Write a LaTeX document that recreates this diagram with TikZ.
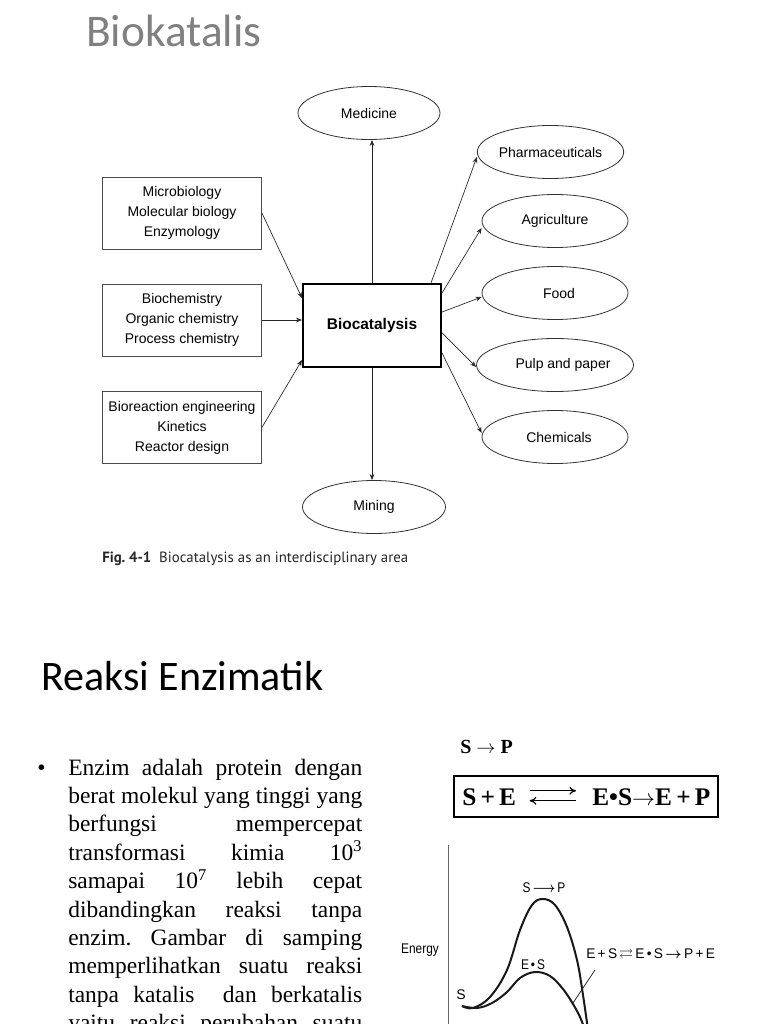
\documentclass[tikz,border=0pt]{standalone}
\usepackage{amssymb}
\usepackage{fontspec}
\setmainfont{Liberation Serif}
\newfontfamily\calfont{Carlito}
\newfontfamily\arfont{Liberation Sans}
\newfontfamily\ptfont{PT Sans}
\usetikzlibrary{shapes.geometric,arrows.meta}
\definecolor{titlegray}{RGB}{128,128,128}
\newcommand{\jline}[1]{\makebox[220.5pt][s]{#1}}
\frenchspacing
\begin{document}
\begin{tikzpicture}[x=0.75pt,y=-0.75pt,
  ell/.style={ellipse,draw=black!80,line width=0.6pt,minimum width=109.5pt,minimum height=39.75pt,inner sep=0pt,font=\arfont\fontsize{10.5}{12}\selectfont},
  srcbox/.style={rectangle,draw=black!70,line width=0.6pt,minimum width=119.25pt,minimum height=54pt,inner sep=0pt,align=center,font=\arfont\fontsize{10.5}{15}\selectfont},
  conn/.style={draw=black!85,line width=0.5pt,-{Stealth[length=4.5pt,width=3.5pt]}},
  body/.style={anchor=base west,inner sep=0pt,font=\fontsize{17.6}{21}\selectfont},
  title/.style={anchor=base west,inner sep=0pt,font=\calfont\fontsize{32}{38}\selectfont},
  eqt/.style={anchor=base west,inner sep=0pt,font=\bfseries\fontsize{19}{23}\selectfont},
  eqarr/.style={line width=0.9pt,-{Computer Modern Rightarrow[length=5pt,width=6pt]}},
  elab/.style={inner sep=0pt,font=\arfont\fontsize{10.5}{12}\selectfont},
  curve/.style={line width=1.5pt,black!90}
]
\useasboundingbox (0,0) rectangle (768,1024);
\clip (0,0) rectangle (768,1024);
\fill[white] (0,0) rectangle (768,1024);

% ---------- Slide 1 ----------
\node[title,text=titlegray,font=\calfont\fontsize{34}{40}\selectfont] (t1) at (86,47) {Biokatalis};

\node[draw=black,line width=1.5pt,minimum width=103.5pt,minimum height=62.25pt,inner sep=0pt,font=\arfont\bfseries\fontsize{11.6}{14}\selectfont] (bio) at (372,325.5) {Biocatalysis};

\node[ell,minimum width=106.5pt] (med) at (369,113) {Medicine};
\node[ell,minimum width=107.25pt] (min) at (374,507) {Mining};
\node[ell] (pha) at (550.5,152) {Pharmaceuticals};
\node[ell] (agr) at (555,221) {Agriculture};
\node[ell] (food) at (555,293) {\hspace*{6pt}Food};
\node[ell] (pulp) at (555,365) {\hspace*{12pt}Pulp and paper};
\node[ell] (chem) at (555,437) {\hspace*{6pt}Chemicals};

\node[srcbox] (b1) at (182,213) {Microbiology\\Molecular biology\\Enzymology};
\node[srcbox] (b2) at (182,320) {Biochemistry\\Organic chemistry\\Process chemistry};
\node[srcbox] (b3) at (182,427.5) {Bioreaction engineering\\Kinetics\\Reactor design};

\draw[conn] (bio.north) -- (bio.north |- med.south);
\draw[conn] (bio.south) -- (bio.south |- min.north);
\draw[conn] (b1.east) -- ([yshift=20.6pt]bio.west);
\draw[conn] (b2.east) -- (b2.east -| bio.west);
\draw[conn] (b3.east) -- ([yshift=-25.9pt]bio.west);
\draw[conn] ([xshift=-8.25pt]bio.north east) -- ([yshift=-3.75pt]pha.west);
\draw[conn] ([yshift=24.4pt]bio.east) -- ([yshift=-5.25pt]agr.west);
\draw[conn] ([yshift=10.1pt]bio.east) -- ([yshift=-3pt]food.west);
\draw[conn] ([yshift=-5.6pt]bio.east) -- ([yshift=-1.5pt]pulp.west);
\draw[conn] ([yshift=-20.6pt]bio.east) -- ([yshift=3pt]chem.west);

\node[anchor=base west,inner sep=0pt,text=black!85,font=\ptfont\fontsize{10.5}{12}\selectfont] (cap) at (102,562)
  {\resizebox{229.5pt}{!}{\textbf{Fig. 4-1}\ \ Biocatalysis as an interdisciplinary area}};

% ---------- Slide 2 ----------
\node[title,text=black,font=\calfont\fontsize{31.5}{38}\selectfont] (t2) at (41,690) {Reaksi Enzimatik};

\node[body] (bul) at (37,775) {\textbullet};
\node[body] (l1) at (68,775.0) {\jline{Enzim adalah protein dengan}};
\node[body] (l2) at (68,803.4) {\jline{berat molekul yang tinggi yang}};
\node[body] (l3) at (68,831.8) {\jline{berfungsi mempercepat}};
\node[body] (l4) at (68,860.2) {\jline{transformasi kimia 10\textsuperscript{3}}};
\node[body] (l5) at (68,888.6) {\jline{samapai 10\textsuperscript{7} lebih cepat}};
\node[body] (l6) at (68,917.0) {\jline{dibandingkan reaksi tanpa}};
\node[body] (l7) at (68,945.4) {\jline{enzim. Gambar di samping}};
\node[body] (l8) at (68,973.8) {\jline{memperlihatkan suatu reaksi}};
\node[body] (l9) at (68,1002.2) {\jline{tanpa katalis\ \ dan berkatalis}};
\node[body] (l10) at (68,1030.6) {\jline{yaitu reaksi perubahan suatu}};

\node[anchor=base west,inner sep=0pt,font=\bfseries\fontsize{15}{18}\selectfont] (sp) at (460,753) {S $\rightarrow$ P};

\node[draw=black,line width=1.6pt,minimum width=198pt,minimum height=30.75pt,inner sep=0pt] (eqbox) at (586,796.5) {};
\node[eqt] (se) at (462,805) {S\,+\,E};
\node[eqt] (es) at (592,805) {E\textbullet S$\rightarrow$E\,+\,P};
\draw[eqarr] ([xshift=10pt,yshift=10.7pt]se.base east) -- ([xshift=-12pt,yshift=10.7pt]es.base west);
\draw[eqarr] ([xshift=-12pt,yshift=3.2pt]es.base west) -- ([xshift=10pt,yshift=3.2pt]se.base east);

% energy diagram
\draw[black!60,line width=0.6pt] (448,845) -- (448,1030);
\draw[curve] plot[smooth,tension=0.6] coordinates {(462,1006) (473,1008) (490,997) (507,970) (520,930) (532,905) (543,899) (555,905) (567,927) (577,960) (583,995) (588,1030)};
\draw[curve] plot[smooth,tension=0.6] coordinates {(462,1006) (477,1008) (492,1003) (507,992) (520,978) (535,972) (550,976) (563,989) (573,1004) (580,1017) (585,1030)};

\node[elab] (lsp) at (544,888) {\scalebox{0.85}[1]{S\,{\boldmath$\longrightarrow$}\,P}};
\node[elab] (len) at (420,950) {\scalebox{0.85}[1]{Energy}};
\node[elab,anchor=west] (leq) at (586,955) {\scalebox{0.98}[1]{E\,+\,S\,$\rightleftarrows$\,E\,\textbullet\,S\,{\boldmath$\rightarrow$}\,P\,+\,E}};
\node[elab] (les) at (533,965) {\scalebox{0.85}[1]{E\,\textbullet\,S}};
\node[elab] (ls) at (461,995) {S};
\coordinate (ptr) at (573,1003);
\draw[black!85,line width=0.6pt] ([shift={(9,15)}]leq.west) -- (ptr);
\end{tikzpicture}
\end{document}
